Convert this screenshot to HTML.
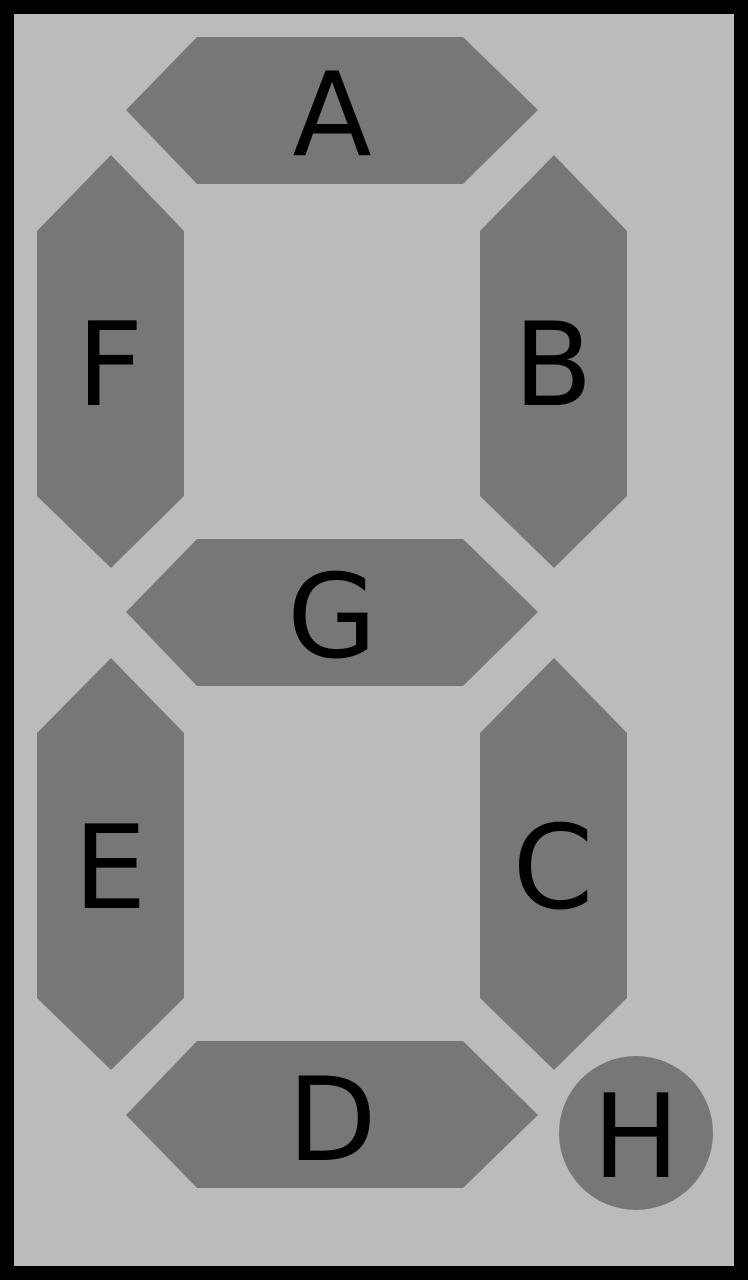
<!DOCTYPE html>
<html><head><style>html,body{margin:0;padding:0;background:#bbb}svg{display:block}</style></head>
<body>
<svg width="748" height="1280" viewBox="0 0 748 1280" xmlns="http://www.w3.org/2000/svg">
<rect x="7" y="7" width="734" height="1266" fill="#bbbbbb" stroke="#000" stroke-width="14"/>
<g fill="#777777">
<polygon points="126,110 197,37 463,37 538,110 463,184 197,184"/>
<polygon points="126,612 197,539 463,539 538,612 463,686 197,686"/>
<polygon points="126,1115 197,1041 463,1041 538,1115 463,1188 197,1188"/>
<polygon points="37,231 111,155 184,231 184,496 111,568 37,496"/>
<polygon points="480,231 554,155 627,231 627,496 554,568 480,496"/>
<polygon points="37,733 111,658 184,733 184,998 111,1070 37,998"/>
<polygon points="480,733 554,658 627,733 627,998 554,1070 480,998"/>
<circle cx="636" cy="1133" r="77"/>
</g>
<g font-family="DejaVu Sans, Liberation Sans, sans-serif" font-size="116" text-anchor="middle" fill="#000">
<text x="332" y="155">A</text>
<text x="110" y="405">F</text>
<text x="553" y="405">B</text>
<text x="332" y="657">G</text>
<text x="110" y="908">E</text>
<text x="553" y="908">C</text>
<text x="332" y="1160">D</text>
<text x="636" y="1177">H</text>
</g>
</svg>
</body></html>
